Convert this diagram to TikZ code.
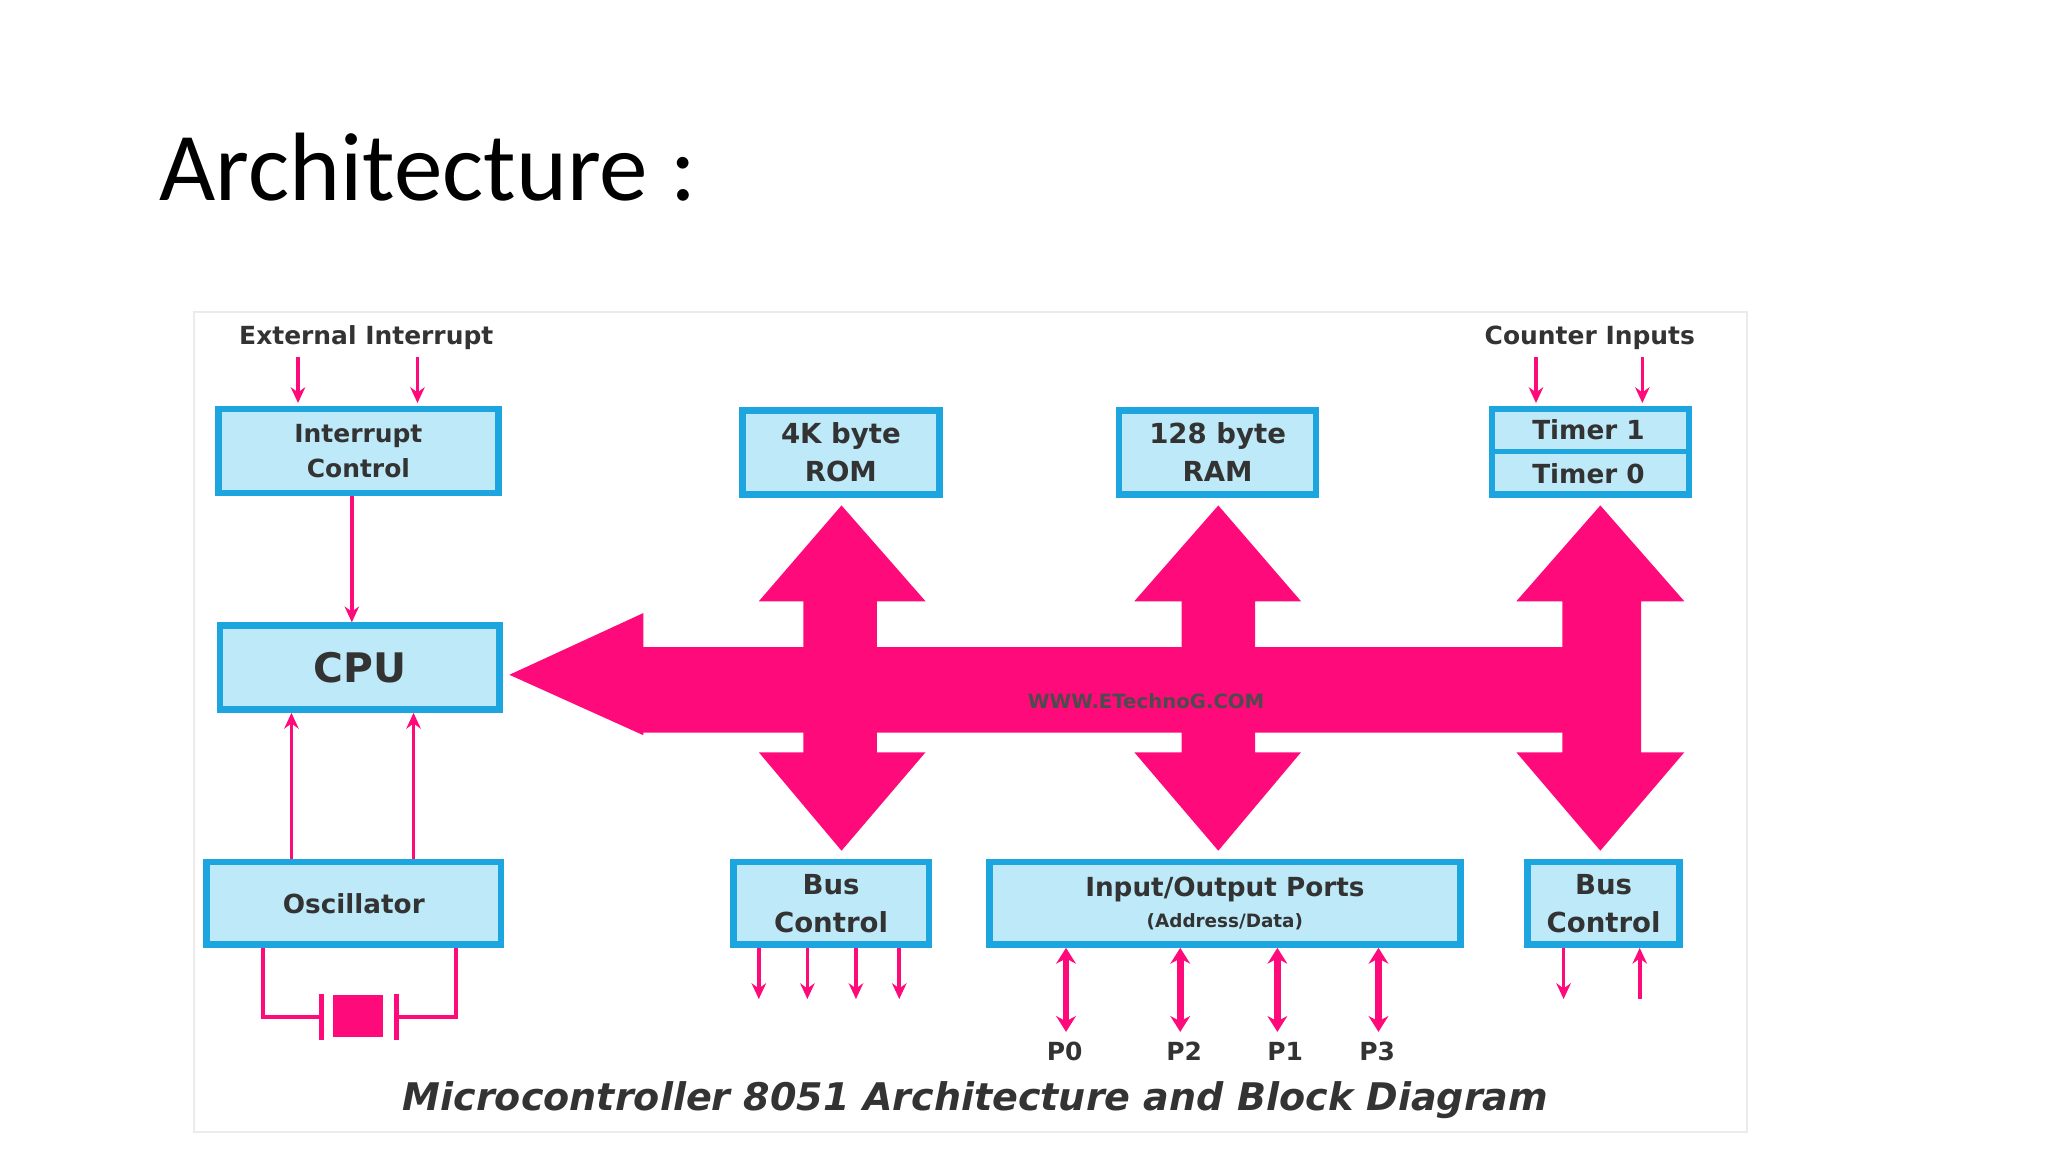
\documentclass[tikz,border=0pt]{standalone}
\usepackage{fontspec}
\setmainfont{Carlito}
\newfontfamily\lblfont{DejaVu Sans}
\usetikzlibrary{arrows.meta}
\definecolor{boxfill}{HTML}{BDE9F8}
\definecolor{boxline}{HTML}{1CA5DF}
\definecolor{bus}{HTML}{FF0A7A}
\begin{document}
\begin{tikzpicture}[x=1pt,y=1pt,yscale=-1,
  blk/.style={draw=boxline,line width=5pt,fill=boxfill,inner sep=0pt,font=\lblfont\fontsize{19}{27}\selectfont\bfseries,text=black!80,align=center},
  sig/.style={draw=bus,line width=2.8pt,-{Stealth[length=12pt,width=11pt]}},
  port/.style={draw=bus,line width=5pt,{Stealth[length=12pt,width=15pt]}-{Stealth[length=12pt,width=15pt]}},
  lbl/.style={font=\lblfont\fontsize{19}{22}\selectfont\bfseries,text=black!80}]
\useasboundingbox (0,0) rectangle (1560,877.5);
\node[anchor=base west,font=\fontsize{74}{80}\selectfont] (title) at (118,153) {Architecture :};
\draw[black!8,line width=1.5pt] (148,238) rectangle (1331,862);

% big bus
\fill[bus] (388,514) -- (490,467) -- (490,493) -- (612,493) -- (612,458) -- (578,458) -- (641,385)
  -- (705,458) -- (668,458) -- (668,493) -- (900,493) -- (900,458) -- (864,458) -- (928,385)
  -- (991,458) -- (956,458) -- (956,493) -- (1190,493) -- (1190,458) -- (1155,458) -- (1219,385)
  -- (1283,458) -- (1250,458) -- (1250,573) -- (1283,573) -- (1219,648) -- (1155,573) -- (1190,573)
  -- (1190,558) -- (956,558) -- (956,573) -- (991,573) -- (928,648) -- (864,573) -- (900,573)
  -- (900,558) -- (668,558) -- (668,573) -- (705,573) -- (641,648) -- (578,573) -- (612,573)
  -- (612,558) -- (490,558) -- (490,560) -- cycle;
\node[font=\lblfont\fontsize{15}{16}\selectfont\bfseries,text=black!70] (wm) at (873,534) {WWW.ETechnoG.COM};

% blocks
\node[blk,minimum width=213pt,minimum height=64pt] (ic) at (273,343.5) {Interrupt\\Control};
\node[blk,minimum width=213pt,minimum height=64pt,font=\lblfont\fontsize{31}{36}\selectfont\bfseries] (cpu) at (274,508.5) {CPU};
\node[blk,minimum width=224pt,minimum height=63pt,font=\lblfont\fontsize{20}{27}\selectfont\bfseries] (osc) at (269.5,688) {Oscillator};
\node[blk,minimum width=150pt,minimum height=64pt,font=\lblfont\fontsize{21}{29}\selectfont\bfseries] (rom) at (640.5,344.5) {4K byte\\ROM};
\node[blk,minimum width=150pt,minimum height=64pt,font=\lblfont\fontsize{21}{29}\selectfont\bfseries] (ram) at (927.5,344.5) {128 byte\\RAM};
\node[blk,minimum width=150pt,minimum height=65pt] (tmr) at (1211.5,344) {};
\draw[boxline,line width=4pt] (1136,344) -- (1287,344);
\node[lbl,font=\lblfont\fontsize{20}{22}\selectfont\bfseries] (t1) at (1210,327) {Timer 1};
\node[lbl,font=\lblfont\fontsize{20}{22}\selectfont\bfseries] (t0) at (1210,361) {Timer 0};
\node[blk,minimum width=149pt,minimum height=63pt,font=\lblfont\fontsize{21}{29}\selectfont\bfseries] (bc1) at (633,688) {Bus\\Control};
\node[blk,minimum width=359pt,minimum height=63pt,font=\lblfont\fontsize{20}{24}\selectfont\bfseries] (io) at (933,688) {Input/Output Ports\\{\fontsize{14}{16}\selectfont(Address/Data)}};
\node[blk,minimum width=116pt,minimum height=63pt,font=\lblfont\fontsize{21}{29}\selectfont\bfseries] (bc2) at (1221.5,688) {Bus\\Control};

% labels
\node[lbl] (ext) at (279,257) {External Interrupt};
\node[lbl] (cnt) at (1211,257) {Counter Inputs};
\foreach \n/\x in {P0/811,P2/902,P1/979,P3/1049}
  \node[lbl] (\n) at (\x,801) {\n};
\node[font=\lblfont\fontsize{29}{32}\selectfont\bfseries\itshape,text=black!80] (cap) at (743,838) {Microcontroller 8051 Architecture and Block Diagram};

% thin signals
\foreach \x in {227,318} \draw[sig] (\x,272) -- (\x,307);
\foreach \x in {1170,1251} \draw[sig] (\x,272) -- (\x,307);
\draw[sig] (ic.south -| 268,0) -- (cpu.north -| 268,0);
\foreach \x in {222,315} \draw[sig] (osc.north -| \x,0) -- (cpu.south -| \x,0);
\foreach \x in {578,615,652,685} \draw[sig] (bc1.south -| \x,0) -- (\x,761);
\draw[sig] (bc2.south -| 1191,0) -- (1191,761);
\draw[sig] (1249,761) -- (bc2.south -| 1249,0);
\foreach \x in {812,899,973,1050} \draw[port] (io.south -| \x,0) -- (\x,786);

% crystal
\draw[bus,line width=3pt] (osc.south -| 200,0) -- (200,775) -- (245,775);
\draw[bus,line width=3pt] (osc.south -| 347,0) -- (347,775) -- (302,775);
\draw[bus,line width=3.5pt] (245,757) -- (245,792) (302,757) -- (302,792);
\fill[bus] (254,758) rectangle (292,790);
\end{tikzpicture}
\end{document}
